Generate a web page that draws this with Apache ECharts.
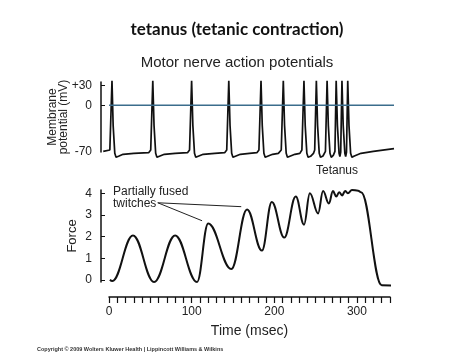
<!DOCTYPE html>
<html>
<head>
<meta charset="utf-8">
<script src="https://cdn.jsdelivr.net/npm/echarts@6/dist/echarts.min.js"></script>
<style>
  html, body { margin: 0; padding: 0; background: #fff; }
  #main { width: 474px; height: 355px; }
</style>
</head>
<body>
<div id="main"></div>
<script>
// membrane potential trace, [time ms, mV]
var membraneTrace = [
  [-7, -69], [1, -67], [3.6, 37], [5, -30], [7, -72], [8.5, -78], [11.5, -76.5], [17, -73.5], [30, -72], [48, -71],
  [50.5, -67], [53, 37], [54.5, -30], [56.5, -72], [58, -78], [61, -76.5], [67, -73.5], [80, -72], [95, -71],
  [97.5, -67], [100, 37], [101.5, -30], [103.5, -72], [105, -78], [108, -76.5], [114, -73.5], [128, -72], [140, -71],
  [142.5, -67], [145, 37], [146.5, -30], [148.5, -72], [150, -78], [153, -76.5], [159, -73.5], [170, -72], [179, -71],
  [181.5, -67], [184, 37], [185.5, -30], [187.5, -72], [189, -78], [192, -76.5], [198, -73.5], [205, -72],
  [208.5, -67], [211, 37], [212.5, -30], [214.5, -72], [216, -78], [219, -76.5], [225, -73.5], [231, -72],
  [233.5, -67], [236, 37], [237.5, -30], [239.5, -72], [241, -78], [244, -76.5], [247.5, -72],
  [249, -67], [251, 37], [252.5, -30], [254.5, -72], [256, -78], [259, -76], [262, -69],
  [264, 37], [265.5, -30], [267.5, -72], [269, -78], [271.5, -75], [273.5, -69],
  [275, 37], [276.5, -30], [278.5, -72], [279.5, -77], [280.5, -70],
  [282, 37], [283.5, -30], [285.5, -72], [286.5, -77], [287.5, -70],
  [289, 37], [290.5, -30], [292.5, -72], [294, -78], [297, -76], [305, -72], [320, -69], [345, -65]
];

// resting line at 0 mV
var zeroLine = [[0, 0], [345, 0]];

// force trace peaks and troughs, [time ms, force]
var forceTrace = [
  [1, 0], [4, -0.05], [29, 2.05], [54.5, -0.1], [80, 2.05], [106.5, -0.1], [120, 2.6],
  [148, 0.5], [167, 3.25], [185, 1.35], [197, 3.6], [212, 1.95], [226, 3.85], [236, 2.55],
  [243, 4.0], [253, 3.07], [259, 4.1], [266, 3.53], [271, 4.1], [275, 3.85], [278.5, 4.05],
  [282, 3.9], [285.7, 4.1], [289, 4.0], [294, 4.15], [301.5, 4.12], [305, 4.05],
  [330, -0.25], [346, -0.28]
];

var membraneTicks = [30, 0, -70];
var forceTicks = [0, 1, 2, 3, 4];
var timeLabels = [0, 100, 200, 300];

var chart = echarts.init(document.getElementById('main'));

var axisColor = '#111';
var labelStyle = { color: '#222', fontSize: 12, fontFamily: 'Liberation Sans' };
var tMin = -9.7;

chart.setOption({
  animation: false,
  backgroundColor: '#fff',
  title: [
    {
      text: 'tetanus (tetanic contraction)',
      left: 'center', top: 16,
      textStyle: { fontFamily: 'Lato', fontWeight: 'bold', fontSize: 17, color: '#111' }
    },
    {
      text: 'Motor nerve action potentials',
      left: 232, top: 50, textAlign: 'center',
      textStyle: { fontFamily: 'Liberation Sans', fontWeight: 'normal', fontSize: 15, color: '#222' }
    }
  ],
  grid: [
    { left: 101, top: 82, width: 293, height: 70 },
    { left: 101, top: 190, width: 289, height: 92 },
    { left: 109, top: 296, width: 281, height: 1 }
  ],
  xAxis: [
    { gridIndex: 0, type: 'value', min: tMin, max: 345, show: false },
    { gridIndex: 1, type: 'value', min: tMin, max: 340, show: false },
    {
      gridIndex: 2, type: 'value', min: 0, max: 340, interval: 10,
      axisLine: { show: true, onZero: false, lineStyle: { color: axisColor, width: 1.5 } },
      axisTick: { show: true, length: 6, lineStyle: { color: axisColor, width: 1.2 } },
      axisLabel: Object.assign({ customValues: timeLabels, margin: 9 }, labelStyle),
      splitLine: { show: false },
      name: 'Time (msec)', nameLocation: 'middle', nameGap: 27,
      nameTextStyle: { fontSize: 14, color: '#222', fontFamily: 'Liberation Sans' }
    }
  ],
  yAxis: [
    {
      gridIndex: 0, type: 'value', min: -70, max: 35,
      axisLine: { show: true, onZero: false, lineStyle: { color: axisColor, width: 1.5 } },
      axisTick: { show: true, inside: true, length: 4, customValues: [30, 0], lineStyle: { color: axisColor } },
      axisLabel: Object.assign({
        customValues: membraneTicks, margin: 9,
        formatter: function (v) { return v > 0 ? '+' + v : '' + v; }
      }, labelStyle),
      splitLine: { show: false },
      name: 'Membrane\npotential (mV)', nameLocation: 'middle', nameGap: 32, nameMoveOverlap: false,
      nameTextStyle: { fontSize: 12, lineHeight: 11, color: '#222', fontFamily: 'Liberation Sans' }
    },
    {
      gridIndex: 1, type: 'value', min: -0.1, max: 4.15,
      axisLine: { show: true, onZero: false, lineStyle: { color: axisColor, width: 1.5 } },
      axisTick: { show: true, inside: true, length: 4, customValues: forceTicks, lineStyle: { color: axisColor } },
      axisLabel: Object.assign({ customValues: forceTicks, margin: 9 }, labelStyle),
      splitLine: { show: false },
      name: 'Force', nameLocation: 'middle', nameGap: 22, nameMoveOverlap: false,
      nameTextStyle: { fontSize: 13, color: '#222', fontFamily: 'Liberation Sans' }
    },
    { gridIndex: 2, type: 'value', show: false }
  ],
  series: [
    {
      type: 'line', xAxisIndex: 0, yAxisIndex: 0,
      data: zeroLine, showSymbol: false, silent: true,
      lineStyle: { color: '#3b6d8c', width: 1.5 },
      z: 4
    },
    {
      type: 'line', xAxisIndex: 0, yAxisIndex: 0,
      data: membraneTrace, showSymbol: false, clip: false,
      lineStyle: { color: '#111', width: 1.7 },
      z: 3
    },
    {
      type: 'line', xAxisIndex: 1, yAxisIndex: 1,
      data: forceTrace, showSymbol: false, clip: false,
      smooth: 0.4, smoothMonotone: 'x',
      lineStyle: { color: '#111', width: 2 },
      markLine: {
        silent: true, symbol: 'none', label: { show: false },
        lineStyle: { color: '#222', width: 1, type: 'solid' },
        data: [
          [{ coord: [59, 3.56] }, { coord: [112.6, 2.73] }],
          [{ coord: [59, 3.56] }, { coord: [160, 3.38] }],
          [{ coord: [262.7, 4.72] }, { coord: [276, 4.17] }]
        ]
      }
    }
  ],
  graphic: [
    { type: 'text', left: 113, top: 186, style: { text: 'Partially fused\ntwitches', fontSize: 12, lineHeight: 12, fill: '#222', fontFamily: 'Liberation Sans' } },
    { type: 'text', left: 316, top: 165, style: { text: 'Tetanus', fontSize: 12, fill: '#222', fontFamily: 'Liberation Sans' } },
    { type: 'text', left: 37, top: 346, style: { text: 'Copyright \u00a9 2009 Wolters Kluwer Health | Lippincott Williams & Wilkins', fontSize: 5.5, fontWeight: 'bold', fill: '#333', fontFamily: 'Liberation Sans' } }
  ]
});
</script>
</body>
</html>
